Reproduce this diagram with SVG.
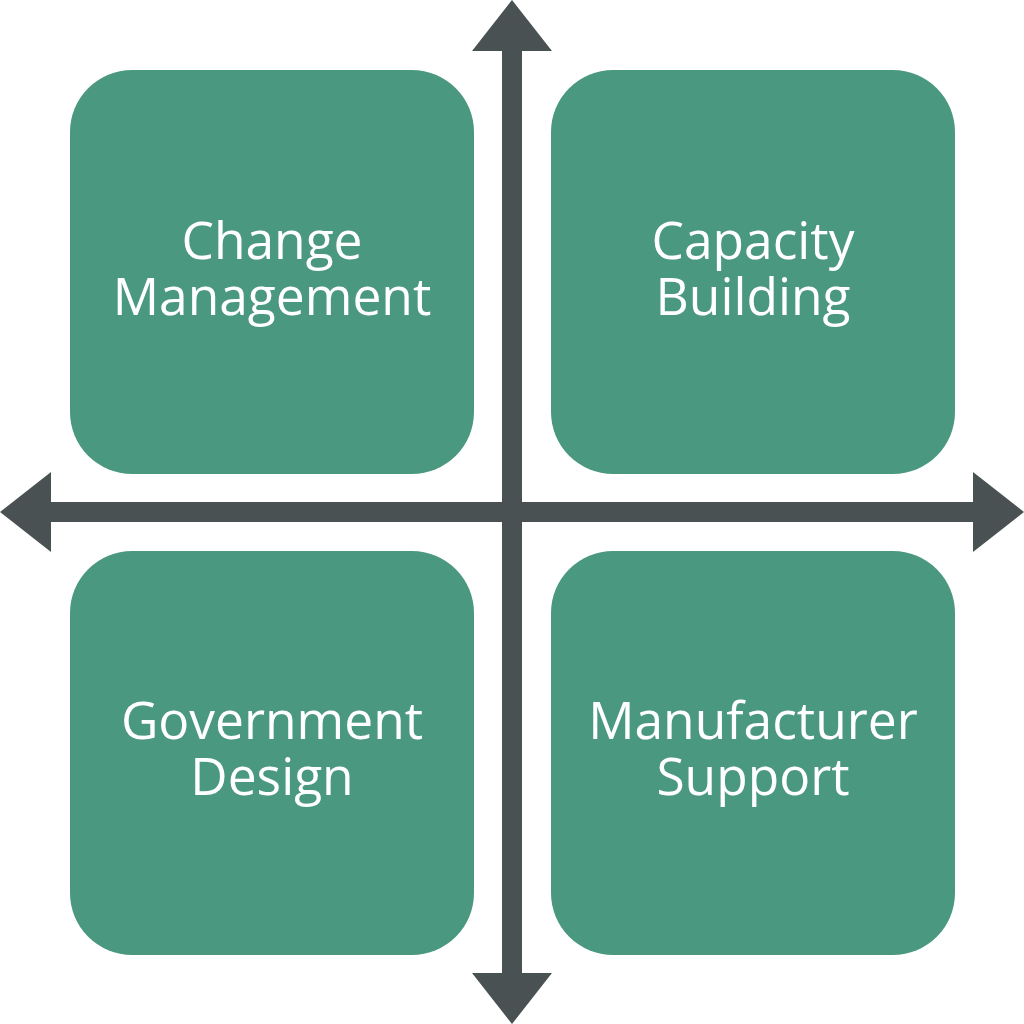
<svg xmlns="http://www.w3.org/2000/svg" width="1024" height="1024" viewBox="0 0 1024 1024">
<style>
.box{fill:#4B9880}
.t{fill:#fff;font-family:"Open Sans",sans-serif;font-size:51.5px;text-anchor:middle}
.ax{fill:#4A5153}
</style>
<rect width="1024" height="1024" fill="#fff"/>
<g id="n1"><rect class="box" x="70" y="70" width="404" height="404" rx="62"/><text class="t" x="272" y="259">Change</text><text class="t" x="272" y="315">Management</text></g>
<g id="n2"><rect class="box" x="551" y="70" width="404" height="404" rx="62"/><text class="t" x="753" y="259">Capacity</text><text class="t" x="753" y="315">Building</text></g>
<g id="n3"><rect class="box" x="70" y="551" width="404" height="404" rx="62"/><text class="t" x="272" y="739">Government</text><text class="t" x="272" y="795">Design</text></g>
<g id="n4"><rect class="box" x="551" y="551" width="404" height="404" rx="62"/><text class="t" x="753" y="739">Manufacturer</text><text class="t" x="753" y="795">Support</text></g>
<g id="connectors" class="ax">
<rect x="502" y="45" width="20" height="934"/>
<rect x="45" y="502" width="934" height="20"/>
<polygon points="512,0 552,51 472,51"/>
<polygon points="512,1024 552,973 472,973"/>
<polygon points="0,512 51,472 51,552"/>
<polygon points="1024,512 973,472 973,552"/>
</g>
</svg>
